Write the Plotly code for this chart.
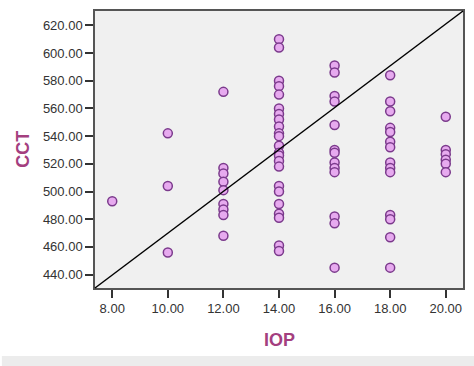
import plotly.graph_objects as go

# Data
cct_8 = [493]
cct_10 = [542, 504, 456]
cct_12 = [572, 517, 513, 507, 501, 491, 487, 483, 468]
cct_14 = [610, 604, 580, 576, 570, 560, 556, 552, 547, 542, 540, 533,
          528, 526, 522, 518, 504, 500, 491, 484, 481, 461, 457]
cct_16 = [591, 586, 569, 565, 548, 530, 528, 521, 517, 514, 482, 477, 445]
cct_18 = [584, 565, 558, 546, 543, 536, 532, 521, 517, 514, 483, 480, 467, 445]
cct_20 = [554, 530, 527, 523, 520, 514]
iop_levels = [8.0, 10.0, 12.0, 14.0, 16.0, 18.0, 20.0]

groups = list(zip(iop_levels, [cct_8, cct_10, cct_12, cct_14, cct_16, cct_18, cct_20]))
iop = []
cct = []
for xv, ys in groups:
    iop += [xv] * len(ys)
    cct += ys

x_ticks = [8, 10, 12, 14, 16, 18, 20]
y_ticks = [440, 460, 480, 500, 520, 540, 560, 580, 600, 620]
x_range = [7.38, 20.62]
y_range = [430.3, 630.4]

title_color = "#a43f7f"
font_family = "Liberation Sans, Arial, sans-serif"

fig = go.Figure()
fig.add_trace(go.Scatter(
    x=iop, y=cct, mode="markers",
    marker=dict(symbol="circle", size=9, color="#e7aaef",
                line=dict(color="#7b3a8c", width=1.5)),
    showlegend=False, hoverinfo="x+y"))

# reference diagonal across the plot area
fig.add_shape(type="line", xref="x domain", yref="y domain",
              x0=0, y0=0, x1=1, y1=1, line=dict(color="black", width=1.5))

# grey band at the bottom of the image
fig.add_shape(type="rect", xref="paper", yref="paper",
              x0=-0.253, x1=1.04, y0=-0.2457, y1=-0.30,
              fillcolor="#ececec", line=dict(width=0), layer="below")

fig.update_layout(
    width=474, height=366,
    margin=dict(l=95, r=11, t=9, b=78),
    paper_bgcolor="white", plot_bgcolor="#f0f0f0",
    font=dict(family=font_family, size=13, color="#333333"),
    showlegend=False,
    annotations=[
        dict(text="<b>IOP</b>", xref="paper", yref="paper", x=0.5, y=-0.145,
             xanchor="center", yanchor="top", showarrow=False,
             font=dict(size=18, color=title_color, family=font_family)),
        dict(text="<b>CCT</b>", xref="paper", yref="paper", x=-0.198, y=0.5,
             xanchor="center", yanchor="middle", textangle=-90, showarrow=False,
             font=dict(size=18, color=title_color, family=font_family)),
    ],
)
axis_common = dict(tickformat=".2f", showgrid=False, zeroline=False,
                   ticks="outside", ticklen=8, tickwidth=1.5, tickcolor="#333333",
                   showline=True, mirror=True, linecolor="#555555", linewidth=1.5,
                   tickfont=dict(size=13, color="#333333"))
fig.update_xaxes(range=x_range, tickvals=x_ticks, **axis_common)
fig.update_yaxes(range=y_range, tickvals=y_ticks, **axis_common)

fig.write_html("out.html", config={"displayModeBar": False},
               post_script="document.body.style.margin='0';document.body.style.overflow='hidden';")
